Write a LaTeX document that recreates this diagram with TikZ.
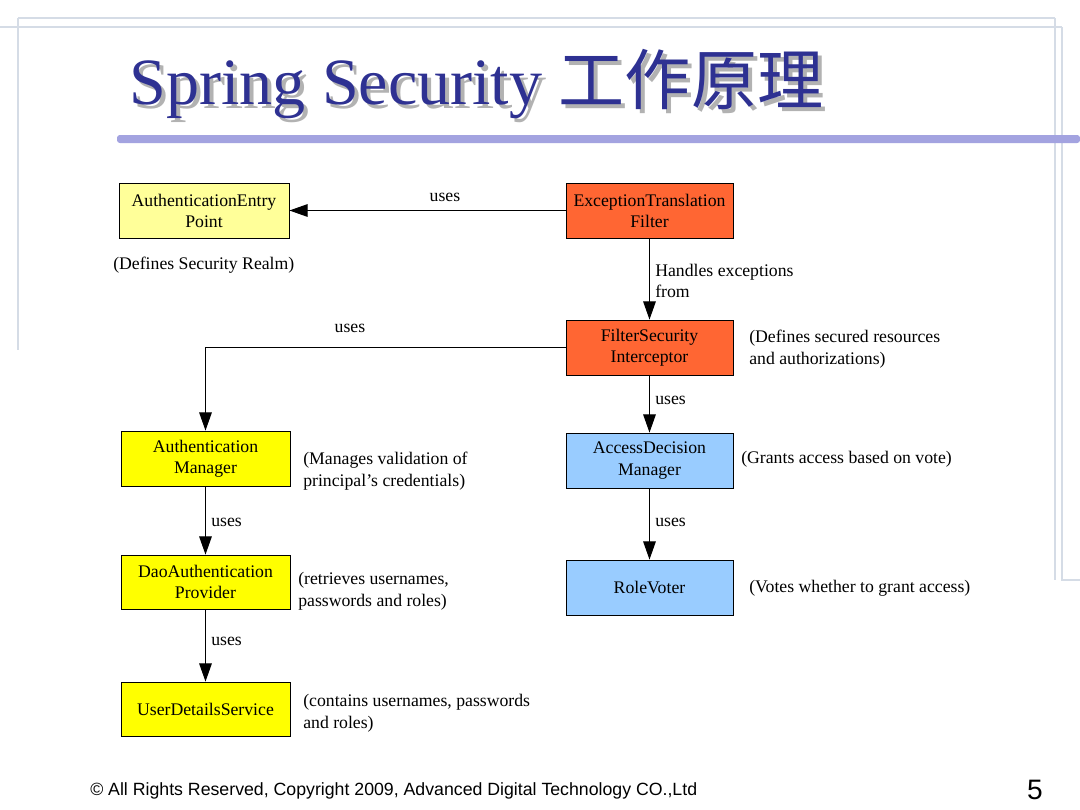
\documentclass[tikz,border=0pt]{standalone}
\usepackage{fontspec}
\setmainfont{Liberation Serif}
\newfontfamily\cjk{Noto Sans CJK SC}
\newfontfamily\foot{Liberation Sans}
\usetikzlibrary{arrows.meta}
\definecolor{deco}{HTML}{D5DCE6}
\definecolor{ttl}{HTML}{2E3192}
\definecolor{bar}{HTML}{A3A3E0}
\definecolor{ly}{HTML}{FFFF99}
\definecolor{yy}{HTML}{FFFF00}
\definecolor{oo}{HTML}{FF6633}
\definecolor{bb}{HTML}{99CCFF}
\begin{document}
\begin{tikzpicture}[x=0.025cm,y=-0.025cm,
  box/.style={draw=black,line width=0.6pt,minimum width=167*0.025cm,minimum height=55*0.025cm,align=center,font=\fontsize{12.6}{15}\selectfont,inner sep=1pt},
  ann/.style={align=left,anchor=west,font=\fontsize{12.6}{15.5}\selectfont,inner sep=0pt},
  lab/.style={font=\fontsize{12.6}{15}\selectfont,inner sep=0pt},
  arr/.style={line width=0.7pt,-{Triangle[length=13pt,width=9pt]}}]
\useasboundingbox (0,0) rectangle (1080,810);
% decoration
\draw[deco,line width=1pt] (18,18) -- (1055,18);
\draw[deco,line width=1pt] (0,27) -- (1062,27);
\draw[deco,line width=1pt] (18,18) -- (18,350);
\draw[deco,line width=1pt] (1055,18) -- (1055,580);
\draw[deco,line width=1pt] (1062,27) -- (1062,580) -- (1080,580);
\fill[bar,rounded corners=2pt] (117,135) rectangle (1080,143);
% title
\node[anchor=base west,inner sep=0pt,text=black!30,font=\fontsize{47}{52}\selectfont] (shadow) at (133,108) {Spring Security {\cjk 工作原理}};
\node[anchor=base west,inner sep=0pt,text=ttl,font=\fontsize{47}{52}\selectfont] (title) at (129,104) {Spring Security {\cjk 工作原理}};
% boxes
\node[box,fill=ly,minimum width=170*0.025cm] (aep) at (204,210.5) {AuthenticationEntry\\Point};
\node[box,fill=oo] (etf) at (649.5,210.5) {ExceptionTranslation\\Filter};
\node[box,fill=oo] (fsi) at (649.5,347.5) {FilterSecurity\\Interceptor};
\node[box,fill=bb] (adm) at (649.5,460.5) {AccessDecision\\Manager};
\node[box,fill=bb] (rv) at (649.5,587.5) {RoleVoter};
\node[box,fill=yy,minimum width=169*0.025cm] (am) at (205.5,458.5) {Authentication\\Manager};
\node[box,fill=yy,minimum width=169*0.025cm,minimum height=54*0.025cm] (dap) at (205.5,582) {DaoAuthentication\\Provider};
\node[box,fill=yy,minimum width=169*0.025cm,minimum height=54*0.025cm] (uds) at (205.5,709) {UserDetailsService};
% arrows
\draw[arr] (etf.west) -- (aep.east);
\draw[arr] (etf) -- (fsi);
\coordinate (bend) at (205.5,347.5);
\draw[arr] (fsi.west) -- (bend) -- (am.north);
\draw[arr] (fsi) -- (adm);
\draw[arr] (adm) -- (rv);
\draw[arr] (am) -- (dap);
\draw[arr] (dap) -- (uds);
% labels
\node[lab] (l1) at (445,197) {uses};
\node[ann] (l2) at (655,281) {Handles exceptions\\from};
\node[lab] (l3) at (350,328) {uses};
\node[lab,anchor=west] (l4) at (655,400) {uses};
\node[lab,anchor=west] (l5) at (655,522) {uses};
\node[lab,anchor=west] (l6) at (211,522) {uses};
\node[lab,anchor=west] (l7) at (211,641) {uses};
% annotations
\node[ann] (a1) at (113,265) {(Defines Security Realm)};
\node[ann] (a2) at (749,349) {(Defines secured resources\\and authorizations)};
\node[ann] (a3) at (741,459) {(Grants access based on vote)};
\node[ann] (a4) at (749,588) {(Votes whether to grant access)};
\node[ann] (a5) at (303,471) {(Manages validation of\\principal's credentials)};
\node[ann] (a6) at (298,591) {(retrieves usernames,\\passwords and roles)};
\node[ann] (a7) at (303,713) {(contains usernames, passwords\\and roles)};
% footer
\node[anchor=west,inner sep=0pt,font=\foot\fontsize{12.6}{14}\selectfont] (ft) at (90,791) {\textcopyright{} All Rights Reserved, Copyright 2009, Advanced Digital Technology CO.,Ltd};
\node[inner sep=0pt,font=\foot\fontsize{20}{22}\selectfont] (pg) at (1035,790) {5};
\end{tikzpicture}
\end{document}
